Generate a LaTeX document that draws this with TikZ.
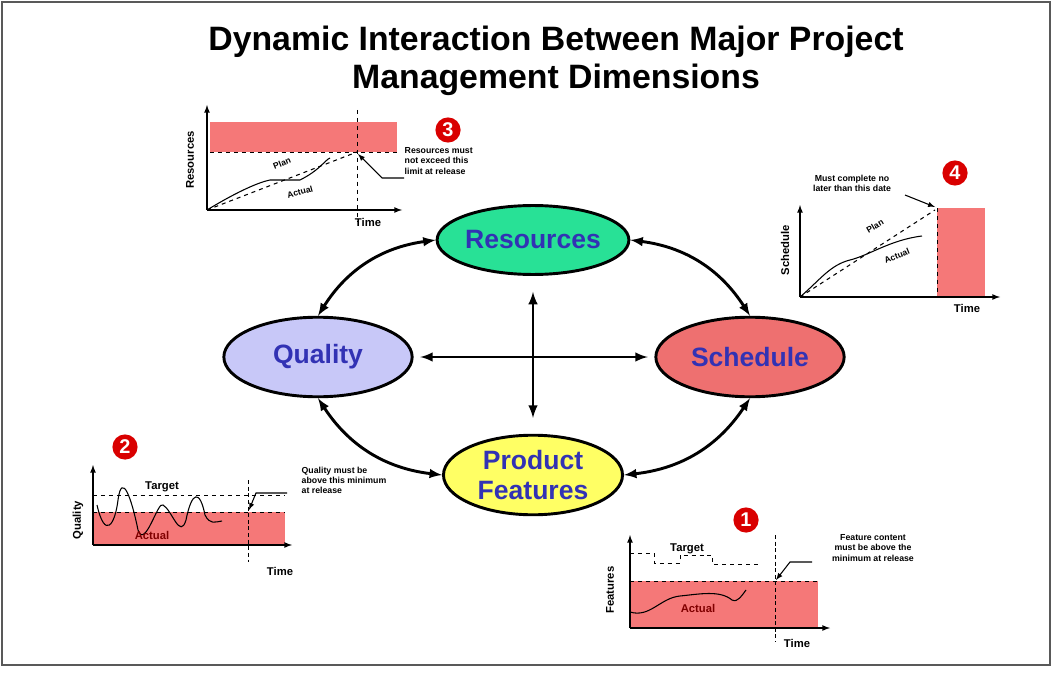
\documentclass[tikz,border=0pt]{standalone}
\usepackage{fontspec}
\setmainfont{Liberation Sans}
\usetikzlibrary{shapes,arrows}
\definecolor{bandred}{RGB}{245,120,120}
\definecolor{resgreen}{RGB}{40,225,150}
\definecolor{qualblue}{RGB}{200,200,248}
\definecolor{schedred}{RGB}{238,112,112}
\definecolor{featyellow}{RGB}{255,255,100}
\definecolor{labelblue}{RGB}{50,50,180}
\tikzset{
	dim/.style      = {draw, ellipse, line width=2.2pt, font=\fontsize{20}{22}\selectfont\bfseries,
		text=labelblue, align=center, inner sep=0pt},
	link/.style     = {<->, >=latex, line width=2.2pt},
	axis/.style     = {->, >=latex, line width=1pt},
	band/.style     = {fill=bandred, draw=none},
	limit/.style    = {dashed, line width=0.6pt},
	note/.style     = {font=\fontsize{6.6}{7.6}\selectfont\bfseries, align=left},
	tiny/.style     = {font=\fontsize{8.5}{9}\selectfont\bfseries},
	curve/.style    = {font=\fontsize{6.5}{7}\selectfont\bfseries, inner sep=0.5pt},
	badge/.style    = {circle, fill=red!85!black, text=white, inner sep=0pt, minimum size=19pt,
		font=\fontsize{15}{15}\selectfont\bfseries},
	leader/.style   = {-latex, line width=0.8pt}
}
\begin{document}
\begin{tikzpicture}[x=0.0265cm, y=-0.0265cm]
	\useasboundingbox (0,0) rectangle (1060,685);
	\draw[gray!70!black, line width=1pt] (2,2) rectangle (1050,665);
	\node[font=\fontsize{25.5}{29}\selectfont\bfseries, align=center] (title) at (556,61)
	{Dynamic Interaction Between Major Project\\Management Dimensions};
	
	% dimensions
	\node[dim, fill=resgreen, minimum width=135pt, minimum height=52pt] (res) at (533,240) {Resources};
	\node[dim, fill=qualblue, minimum width=142pt, minimum height=60pt] (qual) at (318,357) {Quality};
	\node[dim, fill=schedred, minimum width=142pt, minimum height=60pt] (sched) at (750,357) {Schedule};
	\node[dim, fill=featyellow, minimum width=135pt, minimum height=60pt] (feat) at (533,475) {Product\\Features};
	
	\draw[link] (qual.north) to[bend left=25] (res.west);
	\draw[link] (res.east) to[bend left=25] (sched.north);
	\draw[link] (qual.south) to[bend right=25] (feat.west);
	\draw[link] (feat.east) to[bend right=25] (sched.south);
	\draw[link] ([xshift=5]qual.east) -- ([xshift=-5]sched.west);
	\draw[link] ([yshift=-12]res.south) -- ([yshift=12]feat.north);
	
	% chart 3: resources
	\fill[band] (210,122) rectangle (397,152);
	\draw[limit] (210,152) -- (397,152);
	\draw[limit] (357,110) -- (357,222);
	\draw[axis] (207,210) -- (207,105);
	\draw[axis] (207,210) -- (402,210);
	\draw[dashed, thick] (207,210) -- (357,152);
	\draw[thick] (207,210) .. controls (240,190) and (260,182) .. (270,180) -- (300,180)
	.. controls (320,170) and (325,160) .. (330,158);
	\node[curve, rotate=22] (plan3) at (282,163) {Plan};
	\node[curve, rotate=15] (act3) at (300,192) {Actual};
	\node[tiny, rotate=90] (ax3) at (190,160) {Resources};
	\node[tiny] (t3) at (368,222) {Time};
	\node[note, anchor=west] (n3) at (400,161) {Resources must\\not exceed this\\limit at release};
	\coordinate (k3) at (382,178);
	\draw[leader] (404,178) -- (k3) -- (358,154);
	\node[badge] (b3) at (448,130) {3};
	
	% chart 4: schedule
	\fill[band] (937,208) rectangle (985,297);
	\draw[limit] (937,208) -- (937,297);
	\draw[axis] (800,297) -- (800,205);
	\draw[axis] (800,297) -- (1000,297);
	\draw[dashed, thick] (800,297) -- (935,210);
	\draw[thick] (800,297) .. controls (820,280) and (830,265) .. (850,260)
	.. controls (870,255) and (890,240) .. (922,236);
	\node[curve, rotate=30] (plan4) at (875,226) {Plan};
	\node[curve, rotate=22] (act4) at (897,256) {Actual};
	\node[tiny, rotate=90] (ax4) at (785,250) {Schedule};
	\node[tiny] (t4) at (967,308) {Time};
	\node[note, align=center] (n4) at (852,183) {Must complete no\\later than this date};
	\draw[leader] (905,195) -- (935,207);
	\node[badge] (b4) at (955,173) {4};
	
	% chart 2: quality
	\fill[band] (93,512) rectangle (285,545);
	\draw[limit] (93,495) -- (285,495);
	\draw[limit] (93,512) -- (285,512);
	\draw[limit, densely dashed] (248,480) -- (248,562);
	\draw[axis] (93,545) -- (93,465);
	\draw[axis] (93,545) -- (292,545);
	\draw[thick] (97,505) .. controls (105,540) and (115,525) .. (118,500)
	.. controls (122,470) and (132,500) .. (138,530)
	.. controls (145,550) and (158,500) .. (163,505)
	.. controls (172,510) and (180,540) .. (186,520)
	.. controls (192,490) and (200,490) .. (205,515)
	.. controls (210,525) and (215,522) .. (222,521);
	\node[tiny] (tg2) at (162,487) {Target};
	\node[tiny, text=red!50!black] (act2) at (152,535) {Actual};
	\node[tiny, rotate=90] (ax2) at (78,520) {Quality};
	\node[tiny] (t2) at (280,571) {Time};
	\node[note, anchor=west] (n2) at (297,480) {Quality must be\\above this minimum\\at release};
	\draw[leader] (287,493) -- (256,493) -- (249,510);
	\node[badge] (b2) at (125,447) {2};
	
	% chart 1: features
	\fill[band] (630,581) rectangle (818,628);
	\draw[limit] (630,581) -- (818,581);
	\draw[limit, densely dashed] (775,535) -- (775,642);
	\draw[axis] (630,628) -- (630,535);
	\draw[axis] (630,628) -- (830,628);
	\draw[limit] (630,553) -- (654,553) -- (654,563) -- (680,563) -- (680,555)
	-- (712,555) -- (712,564) -- (762,564);
	\draw[thick] (630,612) .. controls (650,618) and (660,598) .. (680,596)
	.. controls (700,594) and (720,590) .. (732,600) .. controls (738,603) and (742,595) .. (746,590);
	\node[tiny] (tg1) at (687,549) {Target};
	\node[tiny, text=red!50!black] (act1) at (698,608) {Actual};
	\node[tiny, rotate=90] (ax1) at (610,590) {Features};
	\node[tiny] (t1) at (797,643) {Time};
	\node[note, align=center] (n1) at (873,548) {Feature content\\must be above the\\minimum at release};
	\draw[leader] (812,562) -- (790,562) -- (776,580);
	\node[badge] (b1) at (746,520) {1};
\end{tikzpicture}
\end{document}
